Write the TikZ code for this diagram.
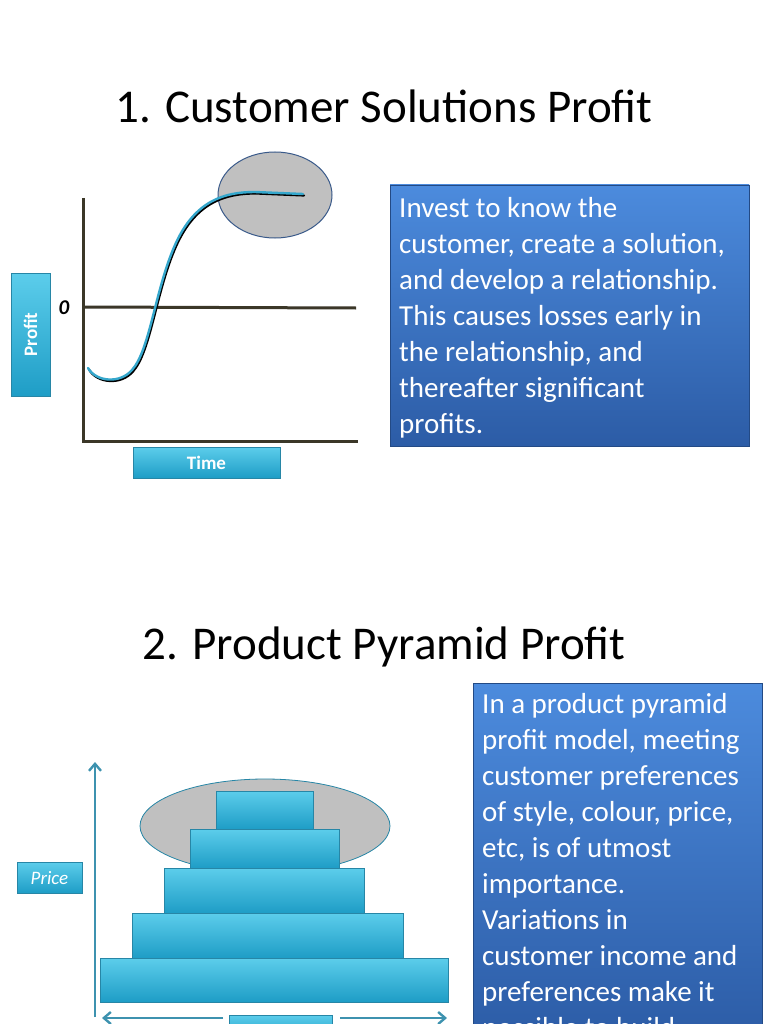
\documentclass[tikz,border=0pt]{standalone}
\usepackage{fontspec}
\setmainfont{Carlito}
\usetikzlibrary{arrows.meta,shapes.geometric}
\definecolor{cyanA}{HTML}{5CCDEB}
\definecolor{cyanB}{HTML}{1E9DC6}
\definecolor{cyanE}{HTML}{2786A6}
\definecolor{blueA}{HTML}{4C8BDD}
\definecolor{blueB}{HTML}{2C5CA6}
\definecolor{axisc}{HTML}{3B3728}
\definecolor{ellc}{HTML}{C0C0C0}
\definecolor{elle}{HTML}{3A5A8A}
\tikzset{
  cbox/.style={draw=cyanE, line width=0.8pt, top color=cyanA, bottom color=cyanB},
  bbox/.style={draw=blueB!80!black, line width=0.8pt, top color=blueA, bottom color=blueB},
  axisl/.style={draw=axisc, line width=3pt},
  ellnode/.style={ellipse, fill=ellc, line width=1pt, inner sep=0pt},
  btxt/.style={text=white, font=\fontsize{29}{36}\selectfont, align=left, anchor=north west, inner sep=0pt},
  ttl/.style={font=\fontsize{47}{52}\selectfont, inner sep=0pt},
  carrow/.style={draw=cyanE!90!white, line width=2.4pt, -{Straight Barb[length=7pt,width=12pt]}},
}
\begin{document}
\begin{tikzpicture}[x=1pt,y=-1pt]
\useasboundingbox (0,0) rectangle (768,1024);
\clip (0,0) rectangle (768,1024);
\fill[white] (0,0) rectangle (768,1024);
% ---- Part 1
\node[ttl] (t1) at (384,106) {1. Customer Solutions Profit};
\node[ellnode, draw=elle, minimum width=114, minimum height=86] (e1) at (275,195) {};
\coordinate (ytop) at (83,198);
\coordinate (org) at (83,441);
\coordinate (xend) at (358,441);
\coordinate (z0) at (83,307);
\coordinate (z1) at (356,308);
\draw[axisl] (ytop) -- (org) -- (xend);
\draw[axisl] (z0) -- (z1);
\node[font=\bfseries\itshape\fontsize{21}{21}\selectfont] (zero) at (64,308) {0};
\draw[cbox] (11,273) rectangle (50,396);
\node[rotate=90, text=white, font=\bfseries\fontsize{19}{19}\selectfont] (prof) at (30.5,334.5) {Profit};
\draw[cbox] (133,447) rectangle (280,478);
\node[text=white, font=\bfseries\fontsize{19}{19}\selectfont] (time) at (206.5,463) {Time};
% curve
\draw[black, line width=2.2pt, line cap=round, shift={(1,1.5)}] (88,368) .. controls (96,382) and (120,384) .. (132,370) .. controls (150,350) and (155,290) .. (175,245) .. controls (195,200) and (225,192) .. (255,192) -- (303,194);
\draw[cyanB!90!white, line width=2.4pt, line cap=round] (88,368) .. controls (96,382) and (120,384) .. (132,370) .. controls (150,350) and (155,290) .. (175,245) .. controls (195,200) and (225,192) .. (255,192) -- (303,194);
% text box 1
\draw[bbox] (390,185) rectangle (749,446);
\node[btxt] (tx1) at (399,197) {Invest to know the\\customer, create a solution,\\and develop a relationship.\\This causes losses early in\\the relationship, and\\thereafter significant\\profits.};
% ---- Part 2
\node[ttl] (t2) at (384,647) {2. Product Pyramid Profit};
\draw[bbox] (473,683) rectangle (762,1040);
\node[btxt] (tx2) at (482,693) {In a product pyramid\\profit model, meeting\\customer preferences\\of style, colour, price,\\etc, is of utmost\\importance.\\Variations in\\customer income and\\preferences make it\\possible to build};
\node[ellnode, draw=cyanE, line width=0.8pt, minimum width=250, minimum height=94] (e2) at (265,826) {};
\coordinate (vb) at (95,1017);
\coordinate (vt) at (95,762);
\draw[carrow] (vb) -- (vt);
\draw[cbox] (17,862) rectangle (82,893);
\node[text=white, font=\itshape\fontsize{19}{19}\selectfont] (price) at (49.5,878) {Price};
\draw[cbox] (216,791) rectangle (313,829);
\draw[cbox] (190,829) rectangle (339,868);
\draw[cbox] (164,868) rectangle (364,913);
\draw[cbox] (132,913) rectangle (403,958);
\draw[cbox] (100,958) rectangle (448,1002);
\coordinate (al0) at (223,1018);
\coordinate (al1) at (102,1018);
\coordinate (ar0) at (340,1018);
\coordinate (ar1) at (447,1018);
\draw[carrow] (al0) -- (al1);
\draw[carrow] (ar0) -- (ar1);
\draw[cbox] (229,1015) rectangle (332,1040);
\end{tikzpicture}
\end{document}
